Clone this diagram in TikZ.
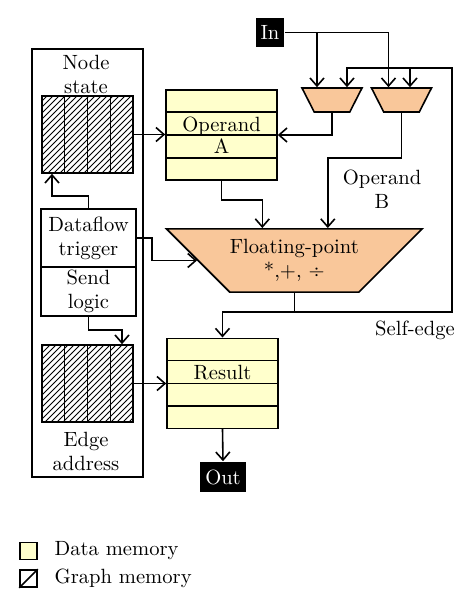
\documentclass[tikz,border=0pt]{standalone}
\usepackage{xcolor}
\usetikzlibrary{shapes.geometric,arrows.meta,positioning,patterns,calc}

\definecolor{memyellow}{RGB}{255,255,204}
\definecolor{unitorange}{RGB}{249,199,154}

\begin{document}
\begin{tikzpicture}[
    x=0.5pt, y=-0.5pt,
    font=\fontsize{10.3}{12}\selectfont,
    line width=0.8pt,
    datamem/.style={rectangle, draw, fill=memyellow, minimum width=55.5pt, minimum height=45pt, inner sep=0pt},
    graphmem/.style={rectangle, draw, pattern=north east lines, minimum width=45.5pt, minimum height=38.5pt, inner sep=0pt},
    logic/.style={rectangle, draw, fill=white, minimum width=47.5pt, inner sep=0pt, outer sep=0pt, align=center},
    mux/.style={trapezium, draw, fill=unitorange, shape border rotate=180, trapezium angle=63, trapezium stretches body,
                minimum width=30pt, inner xsep=2pt, inner ysep=6pt},
    fpunit/.style={trapezium, draw, fill=unitorange, shape border rotate=180, trapezium angle=45, trapezium stretches body,
                minimum width=127.35pt, inner xsep=0pt, inner ysep=5.25pt, align=center},
    port/.style={rectangle, fill=black, text=white, inner sep=0pt, minimum height=14.5pt},
    arrow/.style={-{Straight Barb[length=4pt,width=7pt]}}
]
\useasboundingbox (0,0) rectangle (474,611);

% Nodes
\node[draw, minimum width=55.5pt, minimum height=214pt, inner sep=0pt] (pe) at (87.5,263) {};
\node[align=center] (nstatelbl) at (86,74) {Node\\state};
\node[graphmem] (nstate) at (87.5,134.5) {};
\node[logic, minimum height=29pt] (trig) at (88.5,238) {Dataflow\\trigger};
\node[logic, minimum height=24.5pt, below=0pt of trig] (send) {Send\\logic};
\node[graphmem] (eaddr) at (87.5,383.5) {};
\node[align=center] (eaddrlbl) at (86,451) {Edge\\address};

\node[datamem, align=center, font=\fontsize{10.3}{11}\selectfont] (opA) at (221.5,135) {Operand\\A};
\node[datamem] (res) at (222.5,383.3) {};
\node (reslbl) at ($(res.center)+(0,-11)$) {Result};

\node[port, minimum width=14pt] (in) at (270,32.5) {In};
\node[mux] (muxA) at (332,100) {};
\node[mux] (muxB) at (401.5,100) {};
\node[align=center] (opBlbl) at (382,189) {Operand\\B};

\node[fpunit] (fp) at (294.3,260.5) {Floating-point\\*,+, ÷};
\node (selflbl) at (415,330) {Self-edge};
\node[port, minimum width=23pt, minimum height=15pt] (out) at (223,477) {Out};
\coordinate (loopTR) at (452,68);
\coordinate (selfB) at ($(muxB.north)+(8.5,0)$);

% Memory rows and columns
\foreach \m in {opA,res}
  \foreach \f in {0.25,0.5,0.75}
    \draw ($(\m.north west)!\f!(\m.south west)$) -- ($(\m.north east)!\f!(\m.south east)$);
\foreach \m in {nstate,eaddr}
  \foreach \f in {0.25,0.5,0.75}
    \draw ($(\m.north west)!\f!(\m.north east)$) -- ($(\m.south west)!\f!(\m.south east)$);

% Edges
\draw[arrow] (nstate.east) -- (nstate.east -| opA.west);
\draw[arrow] (eaddr.east) -- (eaddr.east -| res.west);
\draw[arrow] (trig.north) -- ++(0,-13) -| ($(nstate.south)+(-35.5,0)$);
\draw[arrow] (send.south) -- ++(0,14) -| ($(eaddr.north)+(34.5,0)$);
\draw[arrow] (trig.east) -- ++(16,0) |- (fp.west);
\draw[arrow] (in.east) -| ($(muxA.north)+(-15,0)$);
\draw[arrow] (in.east) -| ($(muxB.north)+(-13,0)$);
\draw[arrow] (muxA.south) |- (opA.east);
\draw[arrow] (muxB.south) -- ++(0,45) -| ($(fp.north)+(33.5,0)$);
\draw[arrow] (opA.south) -- ++(0,19) -| ($(fp.north)+(-32,0)$);
\draw (fp.south) -- ++(0,19) coordinate (split);
\draw[arrow] (split) -| (res.north);
\draw[arrow] (split) -| (loopTR) -| ($(muxA.north)+(15,0)$);
\draw[arrow] (selfB |- loopTR) -- (selfB);
\draw[arrow] (res.south) -- (out.north);

% Legend
\node[draw, fill=memyellow, minimum size=8.5pt, inner sep=0pt] (keydata) at (28.5,551) {};
\node[right=8pt of keydata, inner sep=0pt] (keydatalbl) {Data memory};
\node[draw, minimum size=8.5pt, inner sep=0pt] (keygraph) at (28.5,578.5) {};
\draw (keygraph.south west) -- (keygraph.north east);
\node[right=8pt of keygraph, inner sep=0pt] (keygraphlbl) {Graph memory};

\end{tikzpicture}
\end{document}
